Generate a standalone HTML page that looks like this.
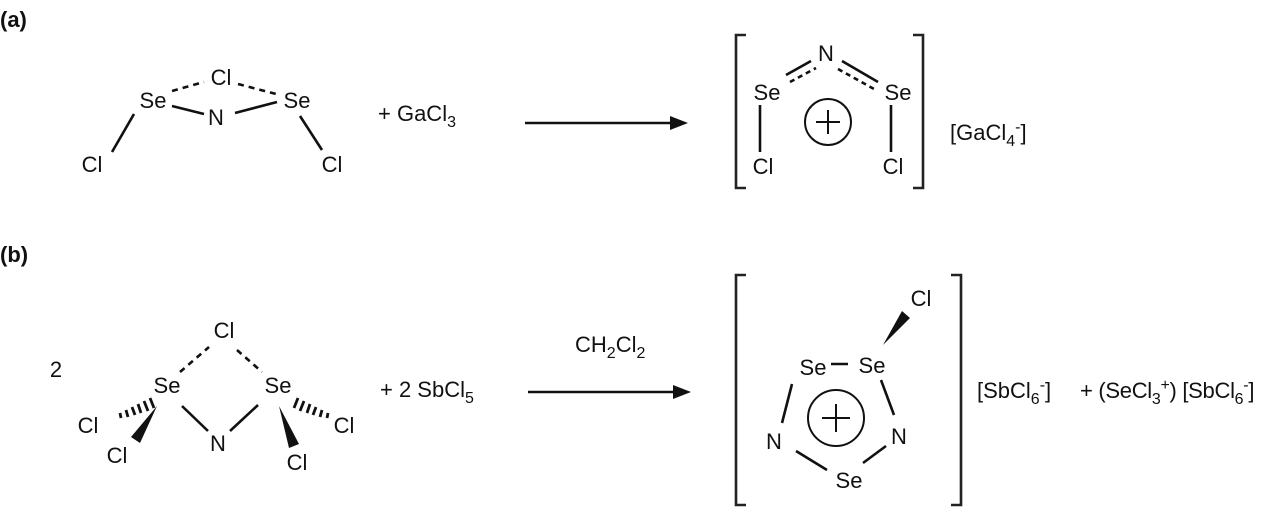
<!DOCTYPE html>
<html><head><meta charset="utf-8"><style>
html,body{margin:0;padding:0;background:#fff;}
svg{display:block;}
text{font-family:"Liberation Sans",sans-serif;font-size:22px;fill:#111;}
.c{text-anchor:middle;}
.b{font-weight:bold;}
line,path.s{stroke:#111;stroke-width:2.6;fill:none;}
.d{stroke-dasharray:6,5;}
.br{stroke:#222;stroke-width:2.6;fill:none;}
</style></head><body>
<svg width="1280" height="513" viewBox="0 0 1280 513">
<!-- (a) -->
<text x="0" y="27" class="b">(a)</text>
<text x="153" y="108" class="c">Se</text>
<text x="221" y="85" class="c">Cl</text>
<text x="297" y="108" class="c">Se</text>
<text x="216" y="125" class="c">N</text>
<text x="92" y="172" class="c">Cl</text>
<text x="332" y="172" class="c">Cl</text>
<line x1="134" y1="114" x2="112" y2="152"/>
<line x1="300" y1="116" x2="322" y2="150"/>
<line x1="172" y1="91" x2="204" y2="82" class="d"/>
<line x1="238" y1="84" x2="276" y2="94" class="d"/>
<line x1="172" y1="106" x2="204" y2="114"/>
<line x1="235" y1="113" x2="277" y2="102"/>
<text x="378" y="121">+ GaCl<tspan dy="6" font-size="16">3</tspan></text>
<line x1="525" y1="123" x2="670" y2="123"/>
<path d="M670,116 L688,123 L670,130 Z" fill="#111"/>
<path class="br" d="M746,35 L736,35 L736,188 L746,188"/>
<path class="br" d="M913,35 L923,35 L923,188 L913,188"/>
<text x="826" y="61" class="c">N</text>
<text x="767" y="100" class="c">Se</text>
<text x="898" y="100" class="c">Se</text>
<text x="763" y="174" class="c">Cl</text>
<text x="893" y="174" class="c">Cl</text>
<line x1="760" y1="105" x2="760" y2="152"/>
<line x1="891" y1="105" x2="891" y2="152"/>
<line x1="786" y1="75" x2="811" y2="61"/>
<line x1="790" y1="82" x2="816" y2="68" class="d" style="stroke-dasharray:5,4"/>
<line x1="842" y1="61" x2="878" y2="82"/>
<line x1="838" y1="69" x2="874" y2="89" class="d" style="stroke-dasharray:5,4"/>
<circle cx="828" cy="122" r="23" style="stroke:#111;stroke-width:2;fill:none"/>
<line x1="816" y1="122" x2="840" y2="122" style="stroke-width:2"/>
<line x1="828" y1="110" x2="828" y2="134" style="stroke-width:2"/>
<text x="950" y="140">[GaCl<tspan dy="6" font-size="16">4</tspan><tspan dy="-14" font-size="16">-</tspan><tspan dy="8">]</tspan></text>
<!-- (b) -->
<text x="0" y="262" class="b">(b)</text>
<text x="56" y="377" class="c">2</text>
<text x="224" y="338" class="c">Cl</text>
<text x="167" y="393" class="c">Se</text>
<text x="278" y="393" class="c">Se</text>
<text x="218" y="451" class="c">N</text>
<text x="88" y="433" class="c">Cl</text>
<text x="117" y="463" class="c">Cl</text>
<text x="344" y="433" class="c">Cl</text>
<text x="297" y="470" class="c">Cl</text>
<line x1="180" y1="372" x2="209" y2="347" class="d"/>
<line x1="237" y1="350" x2="262" y2="372" class="d"/>
<line x1="182" y1="406" x2="208" y2="431"/>
<line x1="230" y1="431" x2="258" y2="405"/>
<path d="M150,398 L154,408 M144,401 L148,411 M138,404 L141,413 M132,407 L135,415 M126,410 L128,417 M120,413 L121,418" style="stroke:#111;stroke-width:2.8"/>
<path d="M298,398 L294,408 M304,401 L300,411 M310,404 L307,413 M316,407 L313,415 M322,410 L320,417 M328,413 L327,418" style="stroke:#111;stroke-width:2.8"/>
<path d="M157,406 L140,443 L131,437 Z" fill="#111"/>
<path d="M279,406 L299,444 L289,448 Z" fill="#111"/>
<text x="380" y="397">+ 2 SbCl<tspan dy="6" font-size="16">5</tspan></text>
<text x="575" y="352">CH<tspan dy="6" font-size="16">2</tspan><tspan dy="-6">Cl</tspan><tspan dy="6" font-size="16">2</tspan></text>
<line x1="528" y1="392" x2="673" y2="392"/>
<path d="M673,385 L691,392 L673,399 Z" fill="#111"/>
<path class="br" d="M746,275 L736,275 L736,505 L746,505"/>
<path class="br" d="M951,275 L961,275 L961,505 L951,505"/>
<text x="813" y="375" class="c">Se</text>
<text x="872" y="373" class="c">Se</text>
<text x="921" y="306" class="c">Cl</text>
<text x="774" y="449" class="c">N</text>
<text x="899" y="444" class="c">N</text>
<text x="849" y="488" class="c">Se</text>
<line x1="831" y1="364" x2="848" y2="364"/>
<line x1="792" y1="384" x2="782" y2="423"/>
<line x1="881" y1="380" x2="894" y2="415"/>
<line x1="796" y1="451" x2="827" y2="470"/>
<line x1="863" y1="463" x2="886" y2="446"/>
<path d="M883,345 L902,311 L910,318 Z" fill="#111"/>
<circle cx="836" cy="418" r="28" style="stroke:#111;stroke-width:2;fill:none"/>
<line x1="822" y1="418" x2="850" y2="418" style="stroke-width:2"/>
<line x1="836" y1="404" x2="836" y2="432" style="stroke-width:2"/>
<text x="977" y="398">[SbCl<tspan dy="6" font-size="16">6</tspan><tspan dy="-14" font-size="16">-</tspan><tspan dy="8">]</tspan></text>
<text x="1080" y="398" style="letter-spacing:-0.3px">+ (SeCl<tspan dy="6" font-size="16">3</tspan><tspan dy="-14" font-size="16">+</tspan><tspan dy="8">) [SbCl</tspan><tspan dy="6" font-size="16">6</tspan><tspan dy="-14" font-size="16">-</tspan><tspan dy="8">]</tspan></text>
</svg>
</body></html>
